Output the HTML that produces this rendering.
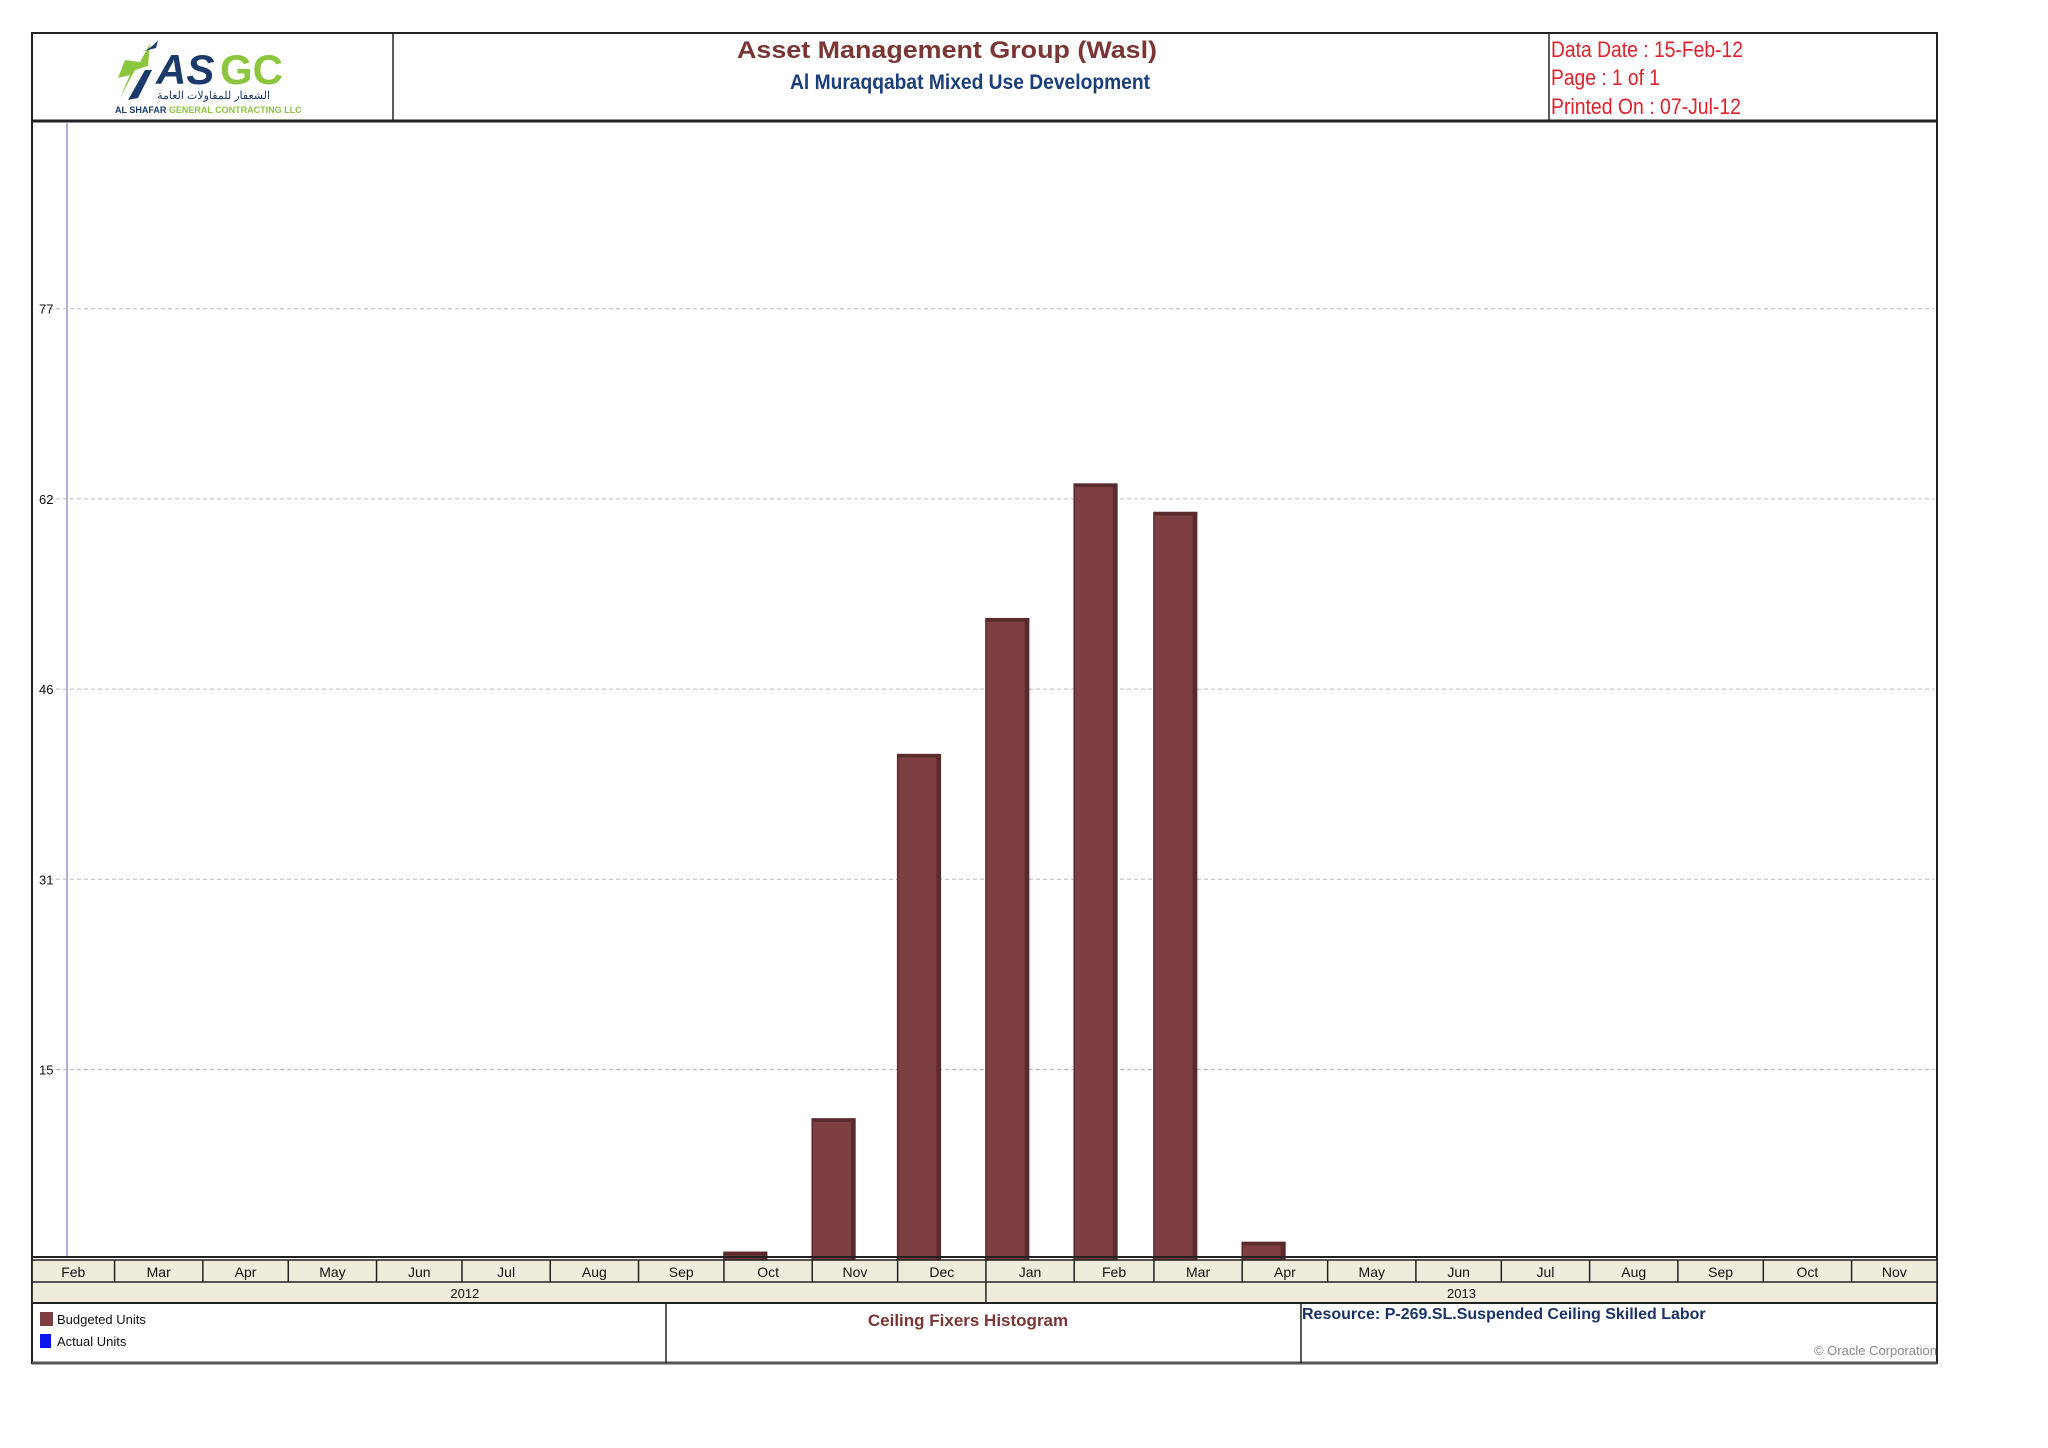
<!DOCTYPE html>
<html><head><meta charset="utf-8"><style>
html,body{margin:0;padding:0;background:#fff;}
svg{display:block;}
text{font-family:"Liberation Sans",sans-serif;}
</style></head><body>
<svg id="chart" width="2048" height="1448" viewBox="0 0 2048 1448">
<rect x="0" y="0" width="2048" height="1448" fill="#fff"/>
<g>
<rect x="32" y="33" width="1905" height="88" fill="#fff" stroke="#222" stroke-width="2"/>
<line x1="393" y1="33" x2="393" y2="121" stroke="#222" stroke-width="1.5"/>
<line x1="1549" y1="33" x2="1549" y2="121" stroke="#222" stroke-width="1.5"/>
<line x1="32" y1="121" x2="1937" y2="121" stroke="#222" stroke-width="3"/>
<g>
<path d="M150 44 L140 62 L125 60 L118 78 L130 75 L120 98 L135 70 L148 66 Z" fill="#8cc63f"/>
<path d="M158 40 Q150 50 140 52 L156 48 Z M145 70 L128 100 L138 98 L152 70 Z" fill="#1b3a6b"/>
<text x="156" y="84" font-size="42" font-weight="bold" font-style="italic" fill="#1b3a6b">AS</text>
<text x="220" y="84" font-size="42" font-weight="bold" fill="#8cc63f">GC</text>
<text x="270" y="99" font-size="11" fill="#1b3a6b" text-anchor="end" font-family="'Liberation Sans','DejaVu Sans',sans-serif">الشعفار للمقاولات العامة</text>
<text x="115" y="113" font-size="9" font-weight="bold" fill="#1b3a6b">AL SHAFAR <tspan fill="#8cc63f">GENERAL CONTRACTING LLC</tspan></text>
</g>
<text x="947" y="58" font-size="24" font-weight="bold" fill="#7a3535" text-anchor="middle" textLength="420" lengthAdjust="spacingAndGlyphs">Asset Management Group (Wasl)</text>
<text x="970" y="89" font-size="21" font-weight="bold" fill="#1a3f7a" text-anchor="middle" textLength="360" lengthAdjust="spacingAndGlyphs">Al Muraqqabat Mixed Use Development</text>
<text x="1551" y="57" font-size="22" fill="#e0202a" textLength="192" lengthAdjust="spacingAndGlyphs">Data Date : 15-Feb-12</text>
<text x="1551" y="85" font-size="22" fill="#e0202a" textLength="109" lengthAdjust="spacingAndGlyphs">Page : 1 of 1</text>
<text x="1551" y="114" font-size="22" fill="#e0202a" textLength="190" lengthAdjust="spacingAndGlyphs">Printed On : 07-Jul-12</text>
</g>
<line x1="32" y1="121" x2="32" y2="1363" stroke="#222" stroke-width="2"/>
<line x1="1937" y1="121" x2="1937" y2="1363" stroke="#222" stroke-width="2"/>
<line x1="67" y1="122" x2="67" y2="1258" stroke="#9a96dd" stroke-width="1.5"/>
<g id="grid"></g>
<g id="bars"></g>
<g id="axis"></g>
<g>
<rect x="32" y="1303" width="1905" height="60" fill="#fff" stroke="#222" stroke-width="2"/>
<line x1="32" y1="1363" x2="1937" y2="1363" stroke="#555" stroke-width="3"/>
<line x1="666" y1="1303" x2="666" y2="1363" stroke="#222" stroke-width="1.5"/>
<line x1="1301" y1="1303" x2="1301" y2="1363" stroke="#222" stroke-width="1.5"/>
<rect x="40" y="1312" width="13" height="14" fill="#7e3f42"/>
<text x="57" y="1324" font-size="13" fill="#111">Budgeted Units</text>
<rect x="40" y="1334" width="11" height="14" fill="#0a14ee"/>
<text x="57" y="1346" font-size="13" fill="#111">Actual Units</text>
<text x="968" y="1326" font-size="17" font-weight="bold" fill="#7a3535" text-anchor="middle">Ceiling Fixers Histogram</text>
<text x="1302" y="1319" font-size="16" font-weight="bold" fill="#1a3366">Resource: P-269.SL.Suspended Ceiling Skilled Labor</text>
<text x="1937" y="1355" font-size="13" fill="#888" text-anchor="end">© Oracle Corporation</text>
</g>
</svg>
<script>
const months = ["Feb","Mar","Apr","May","Jun","Jul","Aug","Sep","Oct","Nov","Dec","Jan","Feb","Mar","Apr","May","Jun","Jul","Aug","Sep","Oct","Nov"];
const monthDays = [29,31,30,31,30,31,31,30,31,30,31,31,28,31,30,31,30,31,31,30,31,30];
const years = ["2012","2013"];
const yearMonthCount = [11,11];
const yearHiddenDaysBefore = [31,0];
const yTicks = [15.4,30.8,46.2,61.6,77];
const yTickLabels = ["15","31","46","62","77"];
const barMonthIndex = [8,9,10,11,12,13,14];
const budgetedUnits = [0.6,11.4,40.9,51.9,62.8,60.5,1.4];

const NS="http://www.w3.org/2000/svg";
const X0=32,X1=1937,Y0=1259.7,PXU=190.2/15.4;
const totalDays=monthDays.reduce((a,b)=>a+b,0);
function xDay(d){return X0+(X1-X0)*d/totalDays;}
function y(v){return Y0-v*PXU;}
function mk(tag,attrs,parent){const e=document.createElementNS(NS,tag);for(const k in attrs)e.setAttribute(k,attrs[k]);parent.appendChild(e);return e;}
const starts=[];let acc=0;for(const d of monthDays){starts.push(acc);acc+=d;}

const grid=document.getElementById('grid');
yTicks.forEach((t,i)=>{
  const l=mk('line',{x1:X0+10,x2:X1-3,y1:y(t),y2:y(t),stroke:'#bbb','stroke-dasharray':'4,3','stroke-width':1},grid);
  
  
  const tx=mk('text',{x:39,y:y(t)+5,'font-size':13,fill:'#111'},grid);
  tx.textContent=yTickLabels[i];
  
  
});

const bars=document.getElementById('bars');
budgetedUnits.forEach((v,i)=>{
  const m=barMonthIndex[i];
  const xa=xDay(starts[m]),xb=xDay(starts[m]+15);
  const g=mk('g',{},bars);
  
  
  mk('rect',{x:xa,y:y(v),width:xb-xa,height:Y0-y(v),fill:'#7e3f42',stroke:'#5a2a2d','stroke-width':1.5},g);
  mk('rect',{x:xb-4,y:y(v),width:4,height:Y0-y(v),fill:'#5a2a2d'},g);
  mk('rect',{x:xa,y:y(v),width:xb-xa,height:3,fill:'#5a2a2d'},g);
});

const axis=document.getElementById('axis');
mk('line',{x1:X0,x2:X1,y1:1257,y2:1257,stroke:'#222','stroke-width':2},axis);
mk('rect',{x:X0,y:1260,width:X1-X0,height:43,fill:'#efecdc',stroke:'#222','stroke-width':1.5},axis);
mk('line',{x1:X0,x2:X1,y1:1282,y2:1282,stroke:'#222','stroke-width':1.5},axis);
months.forEach((m,i)=>{
  const xa=xDay(starts[i]),xb=xDay(starts[i]+monthDays[i]);
  mk('line',{x1:xa,x2:xa,y1:1260,y2:1282,stroke:'#222','stroke-width':1.5},axis);
  const t=mk('text',{x:(xa+xb)/2,y:1277,'font-size':14,fill:'#111','text-anchor':'middle'},axis);
  t.textContent=m;
  
  
});
let mi=0;
years.forEach((yr,i)=>{
  const xa=xDay(starts[mi]);const end=mi+yearMonthCount[i];
  const xb=end<months.length?xDay(starts[end]):X1;
  const xaLab=xDay(starts[mi]-yearHiddenDaysBefore[i]);
  mk('line',{x1:xa,x2:xa,y1:1282,y2:1303,stroke:'#222','stroke-width':1.5},axis);
  const t=mk('text',{x:(xaLab+xb)/2,y:1298,'font-size':13,fill:'#111','text-anchor':'middle'},axis);
  t.textContent=yr;
  
  
  mi=end;
});
</script>
</body></html>
